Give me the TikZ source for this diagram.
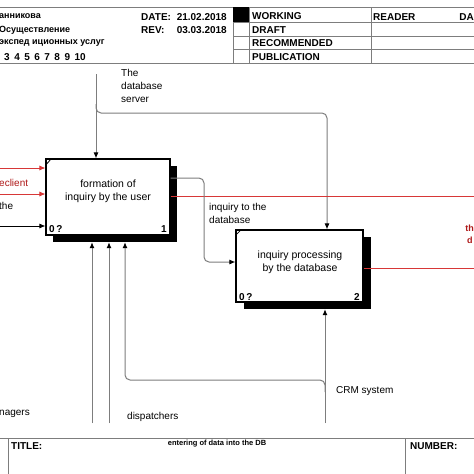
\documentclass[tikz,border=0pt]{standalone}
\usepackage{fontspec}
\setmainfont{Liberation Sans}
\usetikzlibrary{arrows.meta,calc}
\definecolor{lg}{RGB}{125,125,125}
\definecolor{rl}{RGB}{215,55,55}
\definecolor{rt}{RGB}{175,25,25}
\begin{document}
\begin{tikzpicture}[x=1pt,y=-1pt,
  frame/.style={draw=lg,line width=0.9pt},
  hdr/.style={font=\fontsize{10}{12}\selectfont\bfseries,inner sep=0pt,anchor=west},
  cyr/.style={font=\fontsize{9}{11}\selectfont\bfseries,inner sep=0pt,anchor=west},
  lbl/.style={font=\fontsize{10}{13}\selectfont,inner sep=0pt,align=left},
  boxtxt/.style={font=\fontsize{10.5}{13}\selectfont,inner sep=0pt,align=center},
  num/.style={font=\fontsize{10}{12}\selectfont\bfseries,inner sep=0pt},
  fnbox/.style={draw=black,fill=white,line width=1.1pt,inner sep=0pt},
  shd/.style={fill=black,inner sep=0pt},
  gline/.style={draw=lg,line width=1pt,rounded corners=5pt},
  rline/.style={draw=rl,line width=0.8pt},
  tipk/.style={-{Latex[length=6pt,width=5pt,color=black]}},
  tipr/.style={-{Latex[length=6pt,width=5pt,color=rl]}}
]
\useasboundingbox (0,0) rectangle (474,474);
\fill[white] (0,0) rectangle (474,474);

% ---------- header frame ----------
\draw[frame] (0,7) -- (474,7);
\draw[frame] (0,63) -- (474,63);
\foreach \yy in {22,36,49} \draw[frame] (233,\yy) -- (474,\yy);
\draw[frame] (233,7) -- (233,63);
\draw[frame] (249,7) -- (249,63);
\draw[frame] (371,7) -- (371,63);
\fill[black] (233,7) rectangle (249,22);

\node[cyr] (h1) at (-1,16) {анникова};
\node[cyr] (h2) at (-1,30) {Осуществление};
\node[cyr] (h3) at (-1,43) {экспед иционных услуг};
\node[hdr] (h4) at (4,57) {\spaceskip=4.5pt 3 4 5 6 7 8 9 10};
\node[hdr] (d1) at (141,17) {DATE:};
\node[hdr,anchor=east] (d2) at (227,17) {21.02.2018};
\node[hdr] (r1) at (141,30) {REV:};
\node[hdr,anchor=east] (r2) at (227,30) {03.03.2018};
\node[hdr] (w1) at (252,16) {WORKING};
\node[hdr] (w2) at (252,30) {DRAFT};
\node[hdr] (w3) at (252,43) {RECOMMENDED};
\node[hdr] (w4) at (252,57) {PUBLICATION};
\node[hdr] (rd) at (373,17) {READER};
\node[hdr,anchor=east] (da) at (474,17) {DA};

% ---------- footer frame ----------
\draw[frame] (0,438) -- (474,438);
\draw[frame] (8,438) -- (8,474);
\draw[frame] (405,438) -- (405,474);
\node[hdr] (ft1) at (11,446) {TITLE:};
\node[font=\fontsize{7.5}{9}\selectfont\bfseries,inner sep=0pt] (ft2) at (217,444) {entering of data into the DB};
\node[hdr] (ft3) at (410,446) {NUMBER:};

% ---------- boxes ----------
\node[shd,minimum width=124,minimum height=76] (s1) at (115,204) {};
\node[fnbox,minimum width=124,minimum height=76] (b1) at (108,197) {};
\node[boxtxt] (t1) at (108,191) {formation of\\inquiry by the user};
\node[num,anchor=west] (n1a) at (49,229) {0\,?};
\node[num,anchor=east] (n1b) at (167,229) {1};
\draw[black,line width=0.8pt] ($(b1.north west)+(0,7)$) -- ($(b1.north west)+(6,0)$);

\node[shd,minimum width=127,minimum height=72] (s2) at (307.5,273) {};
\node[fnbox,minimum width=127,minimum height=72] (b2) at (299.5,266) {};
\node[boxtxt] (t2) at (300,262.5) {inquiry processing\\by the database};
\node[num,anchor=west] (n2a) at (239,297) {0\,?};
\node[num,anchor=east] (n2b) at (360,297) {2};
\draw[black,line width=0.8pt] ($(b2.north west)+(0,6)$) -- ($(b2.north west)+(6,0)$);

% ---------- coordinates ----------
\coordinate (ctop) at (96,74);
\coordinate (cbr) at (96,104);
\coordinate (cbc) at (96,113);
\coordinate (cbr2) at (327,113);
\coordinate (in1) at (0,168);
\coordinate (in2) at (0,194);
\coordinate (in3) at (0,226);
\coordinate (o1) at (474,196);
\coordinate (o2) at (474,268);
\coordinate (q1) at (204,178);
\coordinate (q2) at (204,262);
\coordinate (m1) at (92,423);
\coordinate (m2) at (109,423);
\coordinate (m3) at (125,380);
\coordinate (m4) at (325,423);
\coordinate (m4b) at (325,392);
\coordinate (m4c) at (325,380);

% ---------- connectors ----------
\draw[gline,tipk] (ctop) -- (ctop |- b1.north);
\draw[gline,tipk] (cbr) -- (cbc) -- (cbr2) -- (cbr2 |- b2.north);
\draw[rline,tipr] (in1) -- (in1 -| b1.west);
\draw[rline,tipr] (in2) -- (in2 -| b1.west);
\draw[draw=black,line width=0.9pt,tipk] (in3) -- (in3 -| b1.west);
\draw[rline] (o1 -| b1.east) -- (o1);
\draw[rline] (o2 -| b2.east) -- (o2);
\draw[gline,tipk] (q1 -| b1.east) -- (q1) -- (q2) -- (q2 -| b2.west);
\draw[gline,tipk] (m1) -- (m1 |- s1.south);
\draw[gline,tipk] (m2) -- (m2 |- s1.south);
\draw[gline,tipk] (m4) -- (m4 |- s2.south);
\draw[gline,tipk] (m4b) -- (m4c) -- (m3) -- (m3 |- s1.south);

% ---------- labels ----------
\node[lbl,anchor=north west] (l1) at (121,69) {The\\database\\server};
\node[lbl,anchor=north west] (l2) at (209,203) {inquiry to the\\database};
\node[lbl,anchor=west] (l3) at (336,391) {CRM system};
\node[lbl,anchor=west] (l4) at (127,417) {dispatchers};
\node[lbl,anchor=west] (l5) at (-1,414) {nagers};
\node[lbl,anchor=west,text=rt] (l6) at (-1,183) {eclient};
\node[lbl,anchor=west] (l7) at (-1,206) {the};
\node[lbl,anchor=east,text=rt,font=\fontsize{9}{11}\selectfont\bfseries] (l8) at (474,228) {th};
\node[lbl,anchor=west,text=rt,font=\fontsize{9}{11}\selectfont\bfseries] (l9) at (467,240) {d};
\end{tikzpicture}
\end{document}
